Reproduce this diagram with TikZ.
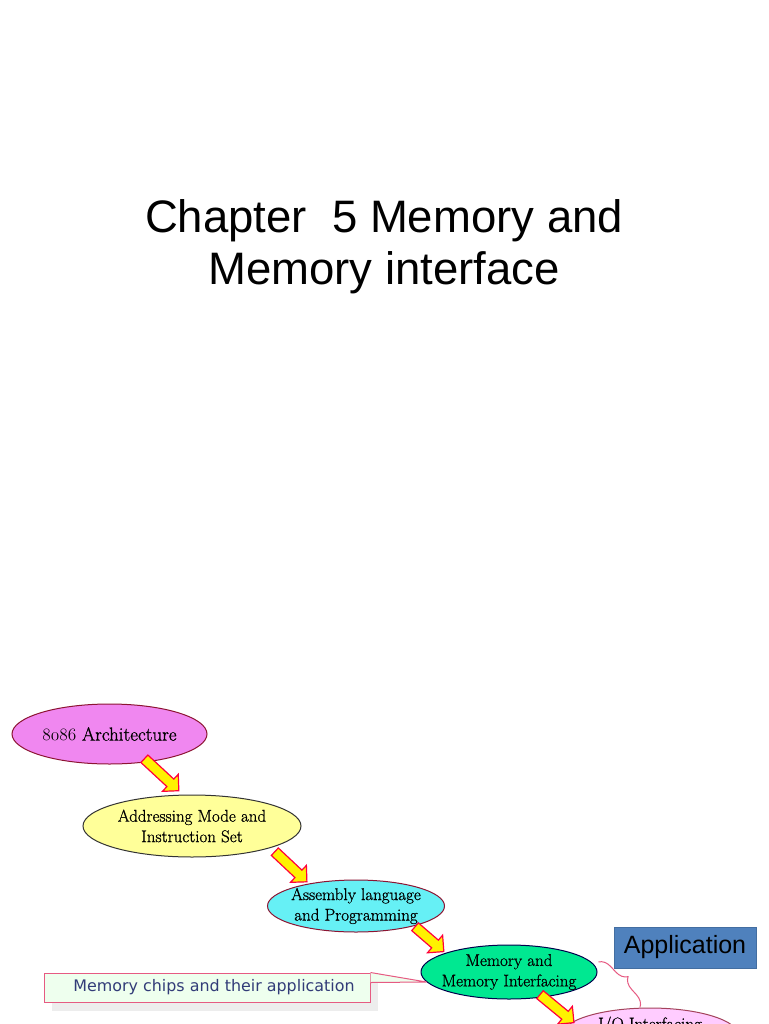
\documentclass[tikz,border=0pt]{standalone}
\usepackage{fontspec}
\newfontfamily\titlefont{Liberation Sans}
\newfontfamily\notefont{DejaVu Sans}
\newfontfamily\topicfont{Latin Modern Roman}[FakeBold=0.9]
\usetikzlibrary{shapes.geometric,shapes.arrows,calc,decorations.pathreplacing,shadows}

\definecolor{archpink}{RGB}{240,135,240}
\definecolor{modeyellow}{RGB}{255,255,153}
\definecolor{asmcyan}{RGB}{102,240,245}
\definecolor{memgreen}{RGB}{0,232,145}
\definecolor{iopink}{RGB}{255,204,255}
\definecolor{edgered}{RGB}{140,20,50}
\definecolor{tipred}{RGB}{255,0,60}
\definecolor{appblue}{RGB}{79,129,189}
\definecolor{notegreen}{RGB}{238,255,238}
\definecolor{notepink}{RGB}{230,90,130}
\definecolor{noteblue}{RGB}{50,60,120}

\tikzset{
  topic/.style={ellipse, draw=edgered, line width=1pt, inner xsep=-12pt, inner ysep=0pt, align=center, font=\topicfont\fontsize{17}{20.5}\selectfont},
  stepper/.style={single arrow, draw=tipred, fill=yellow, line width=1.2pt, inner sep=4.5pt, single arrow head extend=6.5pt, sloped, midway},
}

\begin{document}
\begin{tikzpicture}[x=1pt,y=-1pt]
	\useasboundingbox (0,0) rectangle (768,1024);
	\clip (0,0) rectangle (768,1024);
	% title
	\node[align=center, font=\titlefont\fontsize{45.5}{52}\selectfont] (title) at (384,247) {Chapter\ \ 5 Memory and\\Memory interface};
	% note box
	\node[draw=notepink, fill=notegreen, line width=1pt, minimum width=326, minimum height=29, inner sep=0pt, font=\notefont\fontsize{15.9}{19}\selectfont, text=noteblue, drop shadow={shadow xshift=8pt, shadow yshift=-9pt, fill=black!7, opacity=1}] (chips) at (207,987.5) {\hspace{14pt}Memory chips and their application};
	% chain of topics
	\node[topic, fill=archpink, minimum width=195, minimum height=60, font=\topicfont\fontsize{19}{22}\selectfont] (arch) at (109.5,734) {{\usefont{OML}{lmm}{m}{it}8086} Architecture};
	\node[topic, draw=black!80, fill=modeyellow, minimum width=218, minimum height=62] (addr) at (192,826) {Addressing Mode and\\Instruction Set};
	\node[topic, fill=asmcyan, minimum width=177, minimum height=52] (asm) at (356,906) {Assembly language\\and Programming};
	\node[topic, draw=black!70!blue, fill=memgreen, minimum width=176, minimum height=54] (mem) at (509,972) {Memory and\\Memory Interfacing};
	\node[topic, draw=edgered!80, fill=iopink, minimum width=178, minimum height=56, text depth=26pt] (io) at (650,1036) {I/O Interfacing};
	\draw[notepink, fill=notegreen, line width=1pt] (chips.north east) -- ([shift={(6,10)}]mem.west) -- ([shift={(0,10)}]chips.north east);
	% arrows
	\path ($(arch)+(33,23)$) -- ($(addr)+(-15,-37)$) node[stepper, minimum height=47] {};
	\path ($(addr)+(81,24)$) -- ($(asm)+(-51,-26)$) node[stepper, minimum height=44] {};
	\path ($(asm)+(57,19)$) -- ($(mem)+(-67,-22)$) node[stepper, minimum height=38] {};
	\path ($(mem)+(29,21)$) -- ($(io)+(-78,-15)$) node[stepper, minimum height=44] {};
	% application
	\draw[notepink, line width=1pt, decorate, decoration={brace, amplitude=12pt}] ([shift={(1,-10)}]mem.east) -- ([xshift=-10pt]io.north);
	\node[draw=appblue!85!black, fill=appblue, minimum width=142, minimum height=41, inner sep=0pt, font=\titlefont\fontsize{25}{30}\selectfont] (app) at (685,947.5) {Application};
\end{tikzpicture}
\end{document}
